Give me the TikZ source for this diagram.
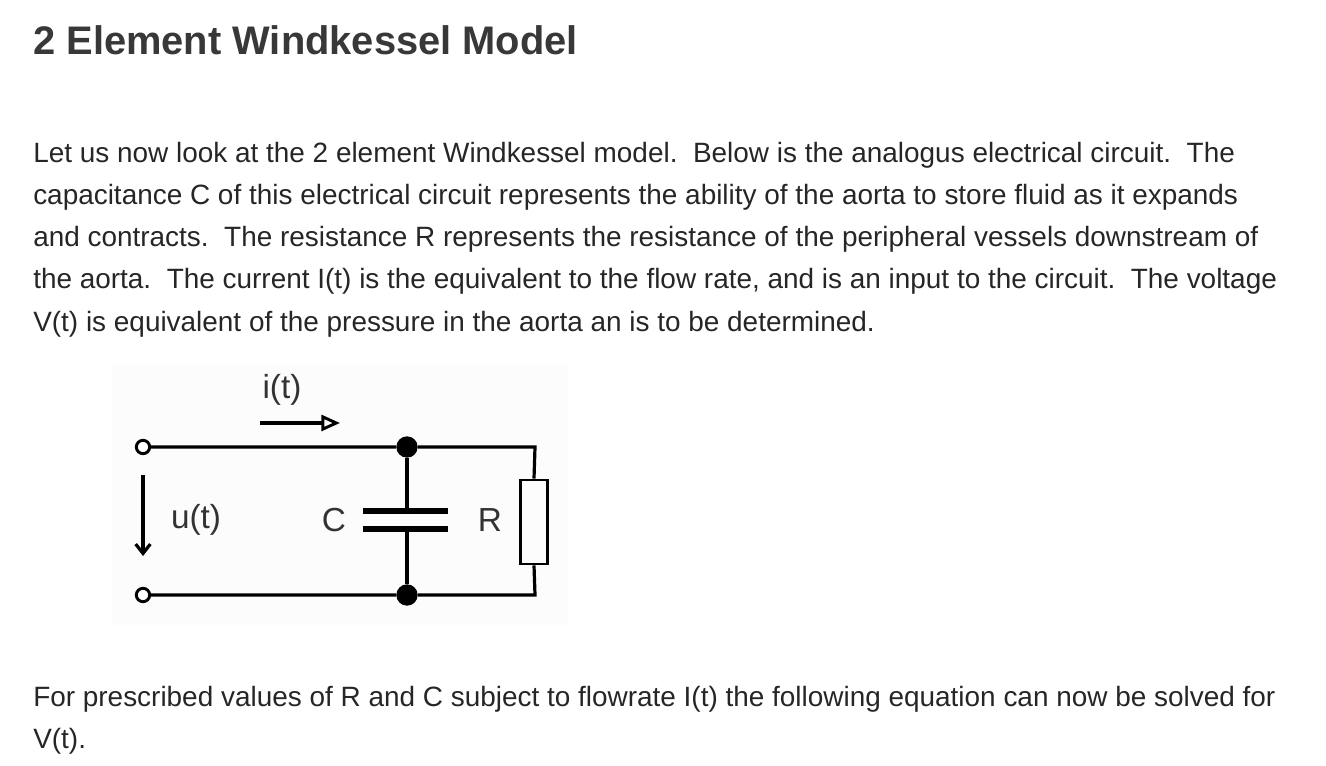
\documentclass[tikz,border=0pt]{standalone}
\usepackage{fontspec}
\setmainfont{Liberation Sans}
\usetikzlibrary{arrows.meta}
\begin{document}
\begin{tikzpicture}[x=0.75pt,y=-0.75pt,
  body/.style={anchor=base west,inner sep=0pt,font=\fontsize{20.95}{22}\selectfont,text=black!85},
  wire/.style={line width=2.4pt},
  lbl/.style={font=\fontsize{25}{27}\selectfont,text=black!80},
  dot/.style={circle,fill=black,inner sep=0pt,minimum size=16pt},
  term/.style={circle,draw,line width=2.2pt,fill=white,inner sep=0pt,minimum size=10pt}]
\useasboundingbox (0,0) rectangle (1326,766);
\node[anchor=base west,inner sep=0pt,font=\fontsize{29.9}{32}\selectfont\bfseries,text=black!78] (title) at (33,55) {2 Element Windkessel Model};
\node[body] (l1) at (33,163) {Let us now look at the 2 element Windkessel model.\ \ Below is the analogus electrical circuit.\ \ The};
\node[body] (l2) at (33,205) {capacitance C of this electrical circuit represents the ability of the aorta to store fluid as it expands};
\node[body] (l3) at (33,247) {and contracts.\ \ The resistance R represents the resistance of the peripheral vessels downstream of};
\node[body] (l4) at (33,289) {the aorta.\ \ The current I(t) is the equivalent to the flow rate, and is an input to the circuit.\ \ The voltage};
\node[body] (l5) at (33,331) {V(t) is equivalent of the pressure in the aorta an is to be determined.};
\node[body] (l6) at (33,706) {For prescribed values of R and C subject to flowrate I(t) the following equation can now be solved for};
\node[body] (l7) at (33,748) {V(t).};
% circuit
\fill[black!1] (112,365) rectangle (568,625);
\coordinate (tr) at (535,447);
\coordinate (br) at (535,595);
\node[term] (t1) at (143,447) {};
\node[term] (t2) at (143,595) {};
\node[dot] (j1) at (407,447) {};
\node[dot] (j2) at (407,595) {};
\node[draw,line width=2.2pt,minimum width=20pt,minimum height=63pt,inner sep=0pt] (R) at (534,522) {};
\coordinate (cp1) at (407,511);
\coordinate (cp2) at (407,529);
\draw[wire] (t1) -- (j1) -- (tr) -- (R.north);
\draw[wire] (t2) -- (j2) -- (br) -- (R.south);
\draw[wire] (j1) -- (cp1);
\draw[wire] (j2) -- (cp2);
\draw[line width=4.8pt] (363,511) -- (448,511);
\draw[line width=4.8pt] (363,529) -- (448,529);
\coordinate (ua) at (143,475);
\coordinate (ub) at (143,556);
\draw[wire,-{Straight Barb[length=7pt,width=11pt]}] (ua) -- (ub);
\coordinate (ia) at (260,423);
\coordinate (ib) at (340,423);
\draw[wire,-{Triangle[open,length=14pt,width=12pt,line width=2.2pt]}] (ia) -- (ib);
\node[lbl] (ut) at (196,520) {u(t)};
\node[lbl] (C) at (334,520) {C};
\node[lbl] (Rl) at (490,520) {R};
\node[lbl] (it) at (282,390) {i(t)};
\end{tikzpicture}
\end{document}
